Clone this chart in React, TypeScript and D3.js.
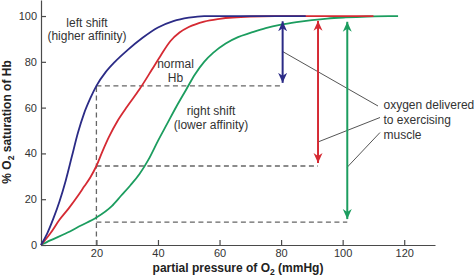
import React, { useEffect, useRef } from 'react'
import * as d3 from 'd3'

// O2-Hb dissociation curves, [pO2 (mmHg), % saturation]
const leftShift: [number, number][] = [
  [2, 0], [4, 5], [6, 11.5], [8, 19], [10, 28], [12, 38.5], [14, 49], [16, 57.5],
  [18, 64], [20, 69.5], [23, 75.5], [26, 80], [30, 85], [35, 90.5], [40, 95],
  [45, 97.8], [50, 99.3], [55, 100], [88, 100],
]
const normalHb: [number, number][] = [
  [2, 0], [5, 5], [8, 11], [11, 16], [14, 21.5], [16, 25.5], [18, 29.5], [20, 34.5],
  [22, 41], [24, 47], [27, 54.5], [30, 60.5], [34, 68], [38, 76.5],
  [41, 83], [44, 89], [47, 92.8], [50, 95.2], [55, 97.6], [60, 98.8], [70, 99.8],
  [78, 100], [110, 100],
]
const rightShift: [number, number][] = [
  [2, 0], [5, 2], [10, 5], [15, 8.5], [20, 12], [25, 17], [28, 21.5], [31, 26],
  [34, 31], [37, 37.5], [40, 45.5], [43, 53], [46, 60.5], [49, 67.5], [52, 74.5],
  [55, 80], [58, 84], [62, 88], [66, 90.8], [70, 92.6], [75, 94.7], [80, 96.2],
  [85, 97.3], [90, 98.2], [95, 98.9], [101, 99.4], [108, 99.8], [115, 100], [118, 100],
]

const pO2Ticks = [20, 40, 60, 80, 100, 120]
const satTicks = [0, 20, 40, 60, 80, 100]

// pO2 in exercising muscle, and the delivered-O2 arrows for each curve
const musclePO2 = 20
const arrowPO2 = [80.5, 92, 101.5]
const arrowTop = [99, 99.2, 98.8]
const arrowBottom = [69.5, 34.5, 10]
const calloutSat = [84.5, 45, 34]

const colors = ['#2b2b86', '#d52a33', '#1c9d5f']

const App = () => {
  const svgRef = useRef<SVGSVGElement>(null)
  const width = 474
  const height = 277

  useEffect(() => {
    document.body.style.margin = '0'
    const svg = d3.select(svgRef.current)
    svg.selectAll('*').remove()

    const x = d3.scaleLinear().domain([2, 130]).range([41, 435])
    const y = d3.scaleLinear().domain([0, 107]).range([245, 0])

    const defs = svg.append('defs')
    colors.forEach((c, i) => {
      defs
        .append('marker')
        .attr('id', `head${i}`)
        .attr('viewBox', '0 0 10 10')
        .attr('refX', 10)
        .attr('refY', 5)
        .attr('markerUnits', 'userSpaceOnUse')
        .attr('markerWidth', 10)
        .attr('markerHeight', 10)
        .attr('orient', 'auto-start-reverse')
        .append('path')
        .attr('d', 'M0,0.5L10,5L0,9.5L3,5Z')
        .attr('fill', c)
    })

    // axes, ticks point inward
    const xAxis = svg
      .append('g')
      .attr('transform', `translate(0,${y(0)})`)
      .call(d3.axisBottom(x).tickValues(pO2Ticks).tickSizeInner(-5).tickSizeOuter(0).tickPadding(4))
    const yAxis = svg
      .append('g')
      .attr('transform', `translate(${x(2)},0)`)
      .call(d3.axisLeft(y).tickValues(satTicks).tickSizeInner(-5).tickSizeOuter(0).tickPadding(4))
    ;[xAxis, yAxis].forEach((g) => {
      g.select('.domain').attr('stroke', '#4a4a4a').attr('stroke-width', 1.2)
      g.selectAll('.tick line').attr('stroke', '#4a4a4a').attr('stroke-width', 1.2)
      g.selectAll('.tick text')
        .attr('fill', '#333')
        .attr('font-size', 11)
        .attr('font-family', 'Liberation Sans, Arial, sans-serif')
    })

    // dashed guides at muscle pO2
    const guides = svg
      .append('g')
      .attr('stroke', '#666')
      .attr('stroke-width', 1.3)
      .attr('stroke-dasharray', '5,3.5')
      .attr('fill', 'none')
    guides
      .append('line')
      .attr('x1', x(musclePO2))
      .attr('x2', x(musclePO2))
      .attr('y1', y(0))
      .attr('y2', y(d3.max(arrowBottom)!))
    arrowBottom.forEach((s, i) => {
      guides
        .append('line')
        .attr('x1', x(musclePO2))
        .attr('x2', x(arrowPO2[i]))
        .attr('y1', y(s))
        .attr('y2', y(s))
    })

    // curves, blue drawn last so it sits on top at the plateau
    const line = d3
      .line<[number, number]>()
      .x((d) => x(d[0]))
      .y((d) => y(d[1]))
      .curve(d3.curveMonotoneX)
    const curves = [leftShift, normalHb, rightShift]
    ;[2, 1, 0].forEach((i) => {
      svg
        .append('path')
        .attr('d', line(curves[i]))
        .attr('fill', 'none')
        .attr('stroke', colors[i])
        .attr('stroke-width', 1.8)
    })

    // callout lines to the note
    const noteX = 383.5
    const calloutEnd = [
      [378, 106],
      [380, 117.5],
      [380, 132.5],
    ]
    calloutSat.forEach((s, i) => {
      svg
        .append('line')
        .attr('x1', x(arrowPO2[i]))
        .attr('y1', y(s))
        .attr('x2', calloutEnd[i][0])
        .attr('y2', calloutEnd[i][1])
        .attr('stroke', '#555')
        .attr('stroke-width', 1)
    })

    // delivered-O2 arrows, heads at both ends
    arrowPO2.forEach((p, i) => {
      svg
        .append('line')
        .attr('x1', x(p))
        .attr('x2', x(p))
        .attr('y1', y(arrowTop[i]) + 3)
        .attr('y2', y(arrowBottom[i]) - 3)
        .attr('stroke', colors[i])
        .attr('stroke-width', 2)
        .attr('marker-start', `url(#head${i})`)
        .attr('marker-end', `url(#head${i})`)
    })

    const labels = svg
      .append('g')
      .attr('font-family', 'Liberation Sans, Arial, sans-serif')
      .attr('font-size', 12)
      .attr('fill', '#333')
    const addLabel = (lines: string[], cx: number, y0: number, dy: number, anchor = 'middle') => {
      const t = labels.append('text').attr('text-anchor', anchor)
      lines.forEach((s, k) => {
        t.append('tspan').attr('x', cx).attr('y', y0 + k * dy).text(s)
      })
    }
    addLabel(['left shift', '(higher affinity)'], 87, 27, 13)
    addLabel(['normal', 'Hb'], 175.5, 68, 14)
    addLabel(['right shift', '(lower affinity)'], 211, 115, 13.5)
    addLabel(['oxygen delivered', 'to exercising', 'muscle'], noteX, 108.5, 15, 'start')

    // axis titles
    const xTitle = svg
      .append('text')
      .attr('x', 238)
      .attr('y', 271.5)
      .attr('text-anchor', 'middle')
      .attr('font-family', 'Liberation Sans, Arial, sans-serif')
      .attr('font-size', 12)
      .attr('font-weight', 'bold')
      .attr('fill', '#222')
    xTitle.append('tspan').text('partial pressure of O')
    xTitle.append('tspan').attr('font-size', 8.5).attr('dy', 3).text('2')
    xTitle.append('tspan').attr('dy', -3).text(' (mmHg)')

    const yTitle = svg
      .append('text')
      .attr('transform', 'translate(11,122) rotate(-90)')
      .attr('text-anchor', 'middle')
      .attr('font-family', 'Liberation Sans, Arial, sans-serif')
      .attr('font-size', 12)
      .attr('font-weight', 'bold')
      .attr('fill', '#222')
    yTitle.append('tspan').text('% O')
    yTitle.append('tspan').attr('font-size', 8.5).attr('dy', 3).text('2')
    yTitle.append('tspan').attr('dy', -3).text(' saturation of Hb')
  }, [])

  return (
    <svg
      ref={svgRef}
      width={width}
      height={height}
      style={{ display: 'block', position: 'absolute', left: 0, top: 0, background: '#fff' }}
    />
  )
}

export default App
